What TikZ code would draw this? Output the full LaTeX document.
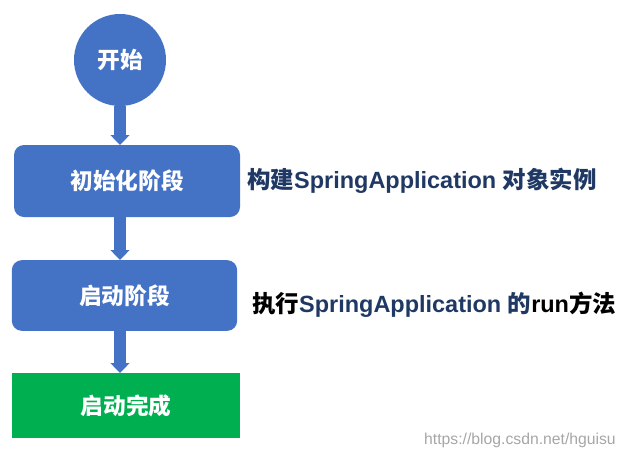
\documentclass[tikz,border=0pt]{standalone}
\usepackage{fontspec}
\setmainfont{Liberation Sans}
\newfontfamily\cjk{Noto Sans CJK SC}
\usetikzlibrary{arrows.meta}
\definecolor{bblue}{HTML}{4472C4}
\definecolor{ggreen}{HTML}{00B050}
\definecolor{navy}{HTML}{1F3864}
\begin{document}
\begin{tikzpicture}[x=0.75pt,y=-0.75pt,
  box/.style={fill=bblue,rounded corners=7.5pt,text=white,font=\cjk\bfseries\fontsize{17}{19}\selectfont,inner sep=0pt},
  flow/.style={draw=bblue,line width=8.5pt,-{Triangle[width=14pt,length=7.5pt]}},
  lbl/.style={anchor=west,font=\bfseries\fontsize{17.6}{20}\selectfont,inner sep=0pt}]
\useasboundingbox (0,0) rectangle (624,457);
\node[circle,fill=bblue,minimum size=69pt,inner sep=0pt,text=white,font=\cjk\bfseries\fontsize{17}{19}\selectfont] (start) at (120,60) {开始};
\node[box,minimum width=169.5pt,minimum height=54pt] (init) at (127,181) {初始化阶段};
\node[box,minimum width=169pt,minimum height=53pt] (run) at (124.5,295.5) {启动阶段};
\node[fill=ggreen,minimum width=171pt,minimum height=48.75pt,inner sep=0pt,text=white,font=\cjk\bfseries\fontsize{17}{19}\selectfont] (done) at (126,405.5) {启动完成};
\draw[flow] (120,106) -- (120,145);
\draw[flow] (120,217) -- (120,260);
\draw[flow] (120,331) -- (120,373);
\node[lbl,text=navy] (l1) at (247,181) {{\cjk 构建}SpringApplication {\cjk 对象实例}};
\node[lbl] (l2) at (252,305) {{\cjk 执行}\textcolor{navy}{SpringApplication {\cjk 的}}run{\cjk 方法}};
\node[anchor=east,text=gray!70,font=\fontsize{11.8}{13}\selectfont,inner sep=0pt] (wm) at (616,440) {https://blog.csdn.net/hguisu};
\end{tikzpicture}
\end{document}
